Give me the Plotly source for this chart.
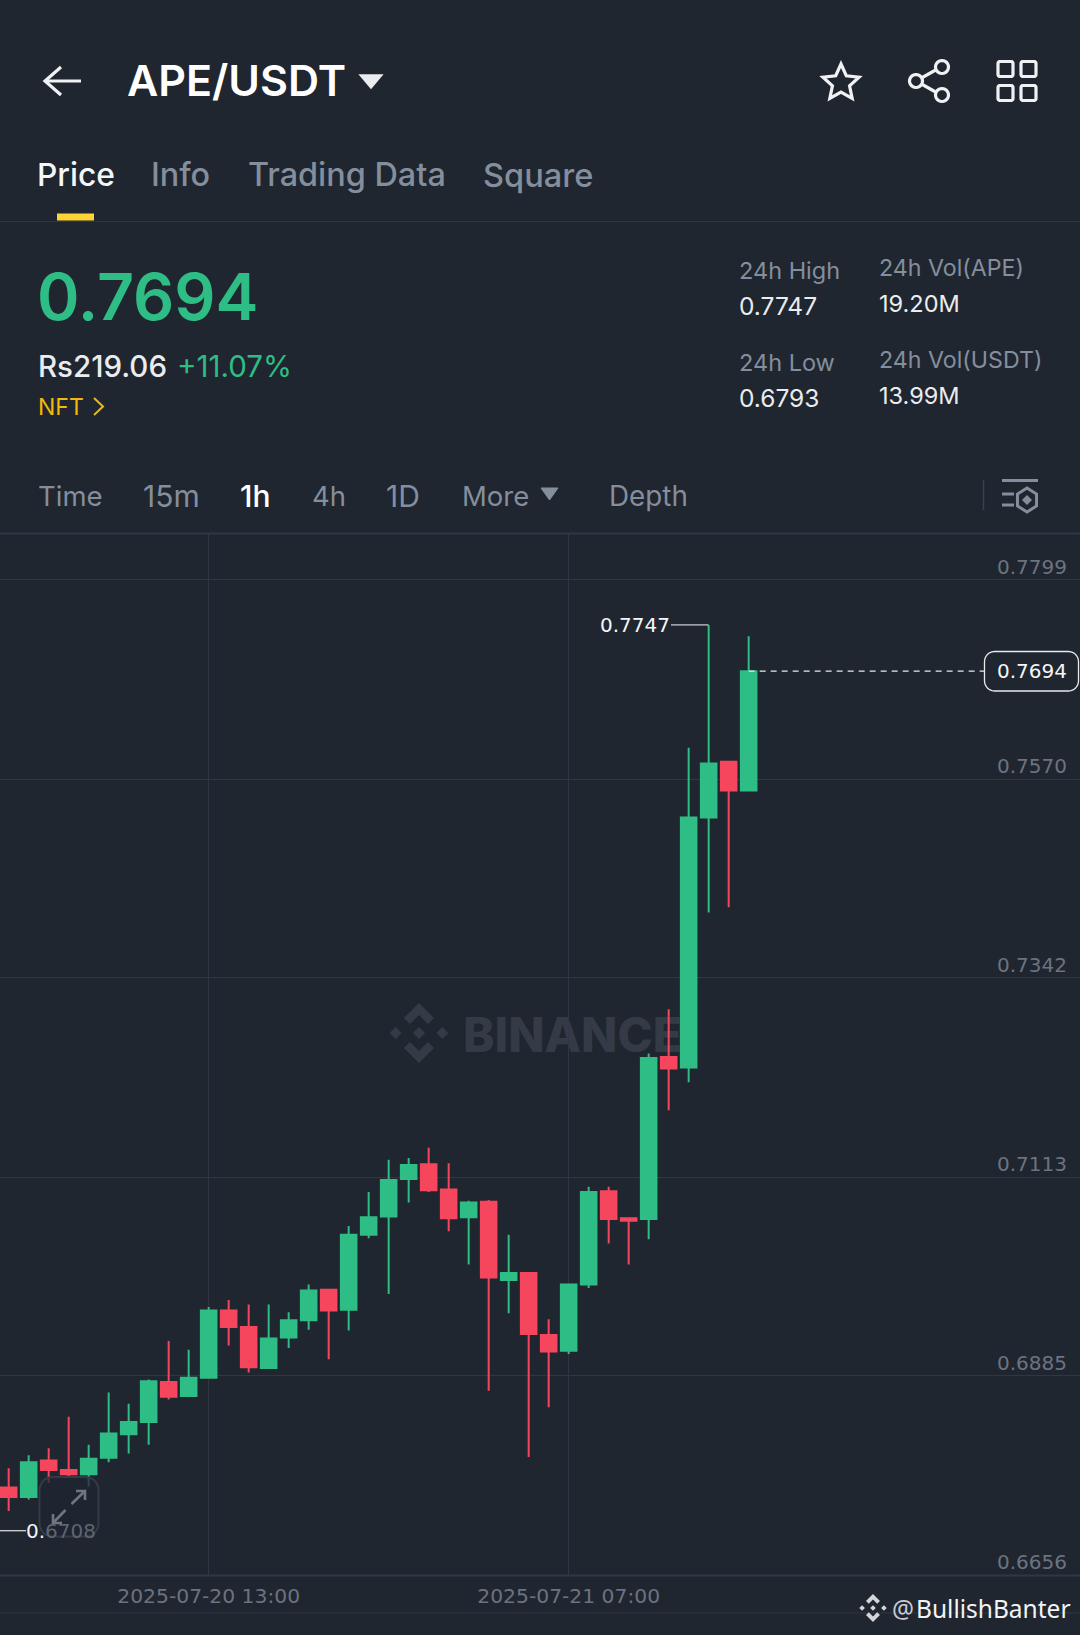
import math
import plotly.graph_objects as go

# ---------- data ----------
times = [f"2025-07-20 {h:02d}:00" for h in range(3, 24)] + [f"2025-07-21 {h:02d}:00" for h in range(0, 17)]
opens = [.6757, .6746, .6788, .6777, .6772, .6791, .6818, .6832, .6878, .6862,
         .6883, .6960, .6941, .6894, .6929, .6949, .6984, .6961, .7047, .7068,
         .7111, .7128, .7099, .7067, .7085, .6995, .7003, .6932, .6914, .6990,
         .7097, .7066, .7065, .7251, .7239, .7526, .7590, .7557]
highs = [.6779, .6794, .6802, .6838, .6806, .6866, .6853, .6881, .6925, .6915,
         .6964, .6972, .6967, .6967, .6958, .6990, .6984, .7057, .7096, .7133,
         .7135, .7147, .7129, .7086, .7087, .7047, .7004, .6950, .6991, .7102,
         .7102, .7066, .7255, .7306, .7606, .7747, .7590, .7734]
lows = [.6730, .6743, .6762, .6768, .6758, .6786, .6796, .6806, .6858, .6862,
        .6883, .6920, .6889, .6894, .6917, .6938, .6904, .6937, .7043, .6979,
        .7084, .7096, .7051, .7013, .6868, .6957, .6792, .6849, .6910, .6986,
        .7037, .7013, .7042, .7190, .7222, .7417, .7423, .7557]
closes = [.6746, .6786, .6777, .6772, .6790, .6819, .6832, .6879, .6861, .6883,
          .6960, .6941, .6895, .6928, .6949, .6983, .6960, .7047, .7067, .7110,
          .7127, .7098, .7066, .7084, .6998, .7003, .6933, .6913, .6990, .7096,
          .7065, .7063, .7250, .7238, .7526, .7588, .7557, .7694]
price_ticks = [0.7799, 0.7570, 0.7342, 0.7113, 0.6885, 0.6656]
price_labels = ["0.7799", "0.7570", "0.7342", "0.7113", "0.6885", "0.6656"]
time_ticks = ["2025-07-20 13:00", "2025-07-21 07:00"]
last_price = 0.7694
high_price = 0.7747

# ---------- style ----------
W, H = 1080, 1635
BG = "#1F2630"
GRID = "#303643"
GREEN = "#2EBD85"
RED = "#F6465D"
GRAY = "#848E9C"
AXIS_GRAY = "#6C7380"
WHITE = "#EAECEF"
UI = "Inter"
CHART_FONT = "DejaVu Sans"
CHART_TOP, CHART_BOTTOM = 533.4, 1575.4


def fx(x):
    return x / W


def fy(y):
    return 1 - y / H


def pth(points, close=False):
    s = "M " + " L ".join(f"{fx(x):.5f},{fy(y):.5f}" for x, y in points)
    return s + (" Z" if close else "")


shapes = []
annotations = []


def poly(points, close=True, fill=None, line=None, width=0, layer="above"):
    shapes.append(dict(type="path", xref="paper", yref="paper", path=pth(points, close), layer=layer,
                       fillcolor=fill if fill else "rgba(0,0,0,0)",
                       line=dict(color=line if line else "rgba(0,0,0,0)", width=width)))


def rounded(x0, y0, x1, y1, r, fill=None, line=None, width=0, layer="above"):
    pts = []
    for cx, cy, a0 in [(x1 - r, y0 + r, -90), (x1 - r, y1 - r, 0), (x0 + r, y1 - r, 90), (x0 + r, y0 + r, 180)]:
        for i in range(7):
            a = math.radians(a0 + i * 15)
            pts.append((cx + r * math.cos(a), cy + r * math.sin(a)))
    poly(pts, True, fill, line, width, layer)


def circle(cx, cy, r, fill=None, line=None, width=0):
    rounded(cx - r, cy - r, cx + r, cy + r, r, fill, line, width)


def hline(x0, y, x1, color, width=1, dash=None, layer="below"):
    shapes.append(dict(type="line", xref="paper", yref="paper", x0=fx(x0), x1=fx(x1), y0=fy(y), y1=fy(y),
                       layer=layer, line=dict(color=color, width=width, dash=dash or "solid")))


def text(x, y, s, size, color, weight=400, anchor="left", family=UI):
    annotations.append(dict(xref="paper", yref="paper", x=fx(x), y=fy(y), text=s, showarrow=False,
                            xanchor=anchor, yanchor="middle", borderpad=0, borderwidth=0,
                            font=dict(family=family, size=size, color=color, weight=weight)))


def logo(cx, cy, s, color, layer="above"):
    for pts in [
        [(0, -1), (.5, -.5), (.3, -.3), (0, -.6), (-.3, -.3), (-.5, -.5)],
        [(0, 1), (.5, .5), (.3, .3), (0, .6), (-.3, .3), (-.5, .5)],
        [(0, -.2), (.2, 0), (0, .2), (-.2, 0)],
        [(-.78, -.2), (-.58, 0), (-.78, .2), (-.98, 0)],
        [(.78, -.2), (.98, 0), (.78, .2), (.58, 0)],
    ]:
        poly([(cx + s * a, cy + s * b) for a, b in pts], True, color, None, 0, layer)


# ---------- header ----------
ICON = "#F0F1F3"
poly([(81, 81), (46, 81)], False, None, ICON, 3.2)
poly([(61, 67), (45, 81), (61, 95)], False, None, ICON, 3.2)
text(127, 80, "APE/USDT", 43, "#FFFFFF", 600)
poly([(360, 75), (382, 75), (371, 88)], True, WHITE, WHITE, 1.5)

star = []
for i in range(10):
    r = 19 if i % 2 == 0 else 9
    a = math.radians(-90 + i * 36)
    star.append((841 + r * math.cos(a), 83 + r * math.sin(a)))
poly(star, True, None, ICON, 3.2)

poly([(941, 67), (916, 81), (941, 95)], False, None, ICON, 3.2)
for cx, cy in [(916, 81), (942, 67), (942, 95)]:
    circle(cx, cy, 6.5, BG, ICON, 3.2)
for x0, y0 in [(998, 61.5), (1021, 61.5), (998, 85.5), (1021, 85.5)]:
    rounded(x0, y0, x0 + 15, y0 + 15, 2, None, ICON, 3.2)

# tabs
text(37, 175, "Price", 31.7, "#F5F6F7", 500)
text(151, 175, "Info", 32.3, GRAY, 500)
text(248, 175, "Trading Data", 32.4, GRAY, 500)
text(483, 175, "Square", 32.6, GRAY, 500)
poly([(57, 213.5), (94, 213.5), (94, 220.5), (57, 220.5)], True, "#FCD535")
hline(0, 221.5, W, GRID, 1)

# price block
text(37, 297, "0.7694", 64.5, GREEN, 600)
text(38, 366, "Rs219.06", 29.5, WHITE, 500)
text(177, 366, "+11.07%", 29.5, GREEN, 400)
text(38, 407, "NFT", 23, "#F0B90B", 400)
poly([(94, 398), (103, 406.5), (94, 415)], False, None, "#F0B90B", 2)

text(739, 270, "24h High", 23.5, GRAY)
text(739, 306, "0.7747", 24.5, WHITE)
text(739, 363, "24h Low", 23.5, GRAY)
text(739, 398.5, "0.6793", 24.5, WHITE)
text(879, 268, "24h Vol(APE)", 23.2, GRAY)
text(879, 304, "19.20M", 23.5, WHITE)
text(879, 360, "24h Vol(USDT)", 23.2, GRAY)
text(879, 395.5, "13.99M", 23.5, WHITE)

# interval row
text(38, 496, "Time", 27.5, GRAY)
text(143, 496, "15m", 30, GRAY)
text(240, 496, "1h", 30, "#FFFFFF", 500)
text(312, 496, "4h", 27.5, GRAY)
text(386, 496, "1D", 30, GRAY)
text(462, 496, "More", 27.5, GRAY)
poly([(541, 488), (558, 488), (549.5, 500)], True, GRAY, GRAY, 1)
text(609, 496, "Depth", 27.8, GRAY)
poly([(983.5, 480), (983.5, 510)], False, None, "#3A414D", 1.5)
poly([(1002, 480.5), (1038, 480.5)], False, None, GRAY, 3)
poly([(1002, 494), (1014, 494)], False, None, GRAY, 3)
poly([(1002, 505), (1014, 505)], False, None, GRAY, 3)
hexa = [(1027 + 11 * math.sin(math.radians(60 * i)), 500 - 12 * math.cos(math.radians(60 * i))) for i in range(6)]
poly(hexa, True, None, GRAY, 3)
poly([(1027, 495), (1032, 500), (1027, 505), (1022, 500)], True, GRAY)

# ---------- chart furniture ----------
hline(0, CHART_TOP, W, GRID, 2)
hline(0, CHART_BOTTOM, W, GRID, 2)
hline(0, 1613, W, GRID, 1)

# watermark sits under the candles
logo(419, 1033, 30, "#343B47", "below")
shapes.append(dict(type="rect", xref="paper", yref="paper", x0=fx(460), x1=fx(700), y0=fy(1010), y1=fy(1056),
                   layer="below", line=dict(width=0), fillcolor="rgba(0,0,0,0)",
                   label=dict(text="BINANCE", textposition="middle left", padding=0,
                              font=dict(family="Inter", size=47.5, color="#343B47", weight=800))))

# last price line and box
shapes.append(dict(type="line", xref="x", yref="y", x0=times[-1], x1="2025-07-22 04:50", y0=last_price, y1=last_price,
                   layer="above", line=dict(color="#E8E9EB", width=1.3, dash="6px,5px")))
rounded(984.5, 651.5, 1078.5, 691, 10, BG, "#E8E9EB", 1.3)
text(1067, 671, "0.7694", 20, "#F5F6F7", 400, "right", CHART_FONT)

# high / low markers
shapes.append(dict(type="line", xref="paper", yref="y", x0=fx(671), x1=fx(708.5), y0=high_price, y1=high_price,
                   layer="above", line=dict(color="#C9CBCF", width=1.3)))
text(670, 625, "0.7747", 20, "#F5F6F7", 400, "right", CHART_FONT)
hline(0, 1530.7, 26, "#D5D7DA", 1.3, layer="above")

# expand button
rounded(39.5, 1477, 98.5, 1536.5, 13, "rgba(31,38,48,0.72)", "#343B47", 2)
poly([(71.5, 1504), (85, 1491)], False, None, "#6F7682", 2.6)
poly([(76, 1491), (85, 1491), (85, 1500)], False, None, "#6F7682", 2.6)
poly([(65.5, 1510), (53, 1523)], False, None, "#6F7682", 2.6)
poly([(53, 1514), (53, 1523), (62, 1523)], False, None, "#6F7682", 2.6)
text(26, 1530.7, '0.<span style="color:#5E6571">6708</span>', 20, "#F5F6F7", family=CHART_FONT)

# footer credit
logo(873, 1608, 14, "#D4D5D8")
text(892, 1608, "@", 24.5, "#C9CBCF", 400, family="Noto Sans")
text(916, 1608, "BullishBanter", 24.5, "#F2F3F4", 400, family="Noto Sans")

# ---------- figure ----------
fig = go.Figure(go.Candlestick(
    x=times, open=opens, high=highs, low=lows, close=closes,
    increasing=dict(line=dict(color=GREEN, width=2), fillcolor=GREEN),
    decreasing=dict(line=dict(color=RED, width=2), fillcolor=RED),
    whiskerwidth=0, showlegend=False, hoverinfo="skip",
))
fig.update_layout(
    width=W, height=H, margin=dict(l=0, r=0, t=0, b=0),
    paper_bgcolor=BG, plot_bgcolor=BG, showlegend=False, boxgap=0.22, boxgroupgap=0,
    shapes=shapes, annotations=annotations, font=dict(family=UI),
    xaxis=dict(type="date", domain=[0, 1], range=["2025-07-20 02:34", "2025-07-22 08:34"],
               rangeslider=dict(visible=False), tickmode="array", tickvals=time_ticks,
               tickformat="%Y-%m-%d %H:%M", ticks="", showline=False, zeroline=False,
               showgrid=True, gridcolor=GRID, gridwidth=1.2,
               tickfont=dict(family=CHART_FONT, size=20.3, color=AXIS_GRAY), ticklabelstandoff=6),
    yaxis=dict(domain=[fy(CHART_BOTTOM), fy(CHART_TOP)], range=[0.6656, 0.78521], side="right",
               tickmode="array", tickvals=price_ticks, ticktext=price_labels, ticklabelposition="inside",
               ticks="", showline=False, zeroline=False, showgrid=True, gridcolor=GRID, gridwidth=1.2,
               tickfont=dict(family=CHART_FONT, size=20, color=AXIS_GRAY), ticklabelstandoff=10, ticklabelshift=-13),
)
fig.write_html("out.html", config={"displayModeBar": False},
               post_script="document.body.style.margin='0';document.body.style.overflow='hidden';")
